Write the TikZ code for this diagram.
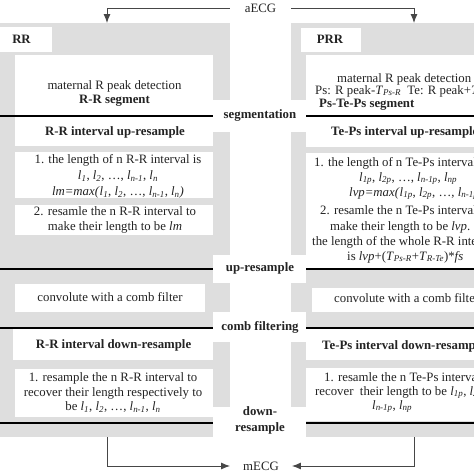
\documentclass[tikz,border=0pt]{standalone}
\usepackage{fontspec}
\setmainfont{Liberation Serif}
\usetikzlibrary{arrows.meta}
\definecolor{panelgray}{RGB}{222,222,222}
\definecolor{txt}{RGB}{35,35,35}
\definecolor{arrowc}{RGB}{70,70,70}
\newcommand\lsb[1]{\textit{l}\textsubscript{\textit{#1}}}
\newcommand\Tsb[1]{\textit{T}\textsubscript{\textit{#1}}}
\begin{document}
\begin{tikzpicture}[x=1pt,y=-1pt,
  panel/.style={fill=panelgray},
  wbox/.style={fill=white},
  t/.style={text=txt, inner sep=0pt, align=center, font=\fontsize{12.8}{15.5}\selectfont},
  tb/.style={t, font=\fontsize{12.8}{15.5}\selectfont\bfseries},
  rl/.style={t, anchor=base west},
  rlb/.style={tb, anchor=base west},
  stageline/.style={line width=1.8pt, black},
  arr/.style={draw=arrowc, line width=0.9pt, -{Latex[length=9pt,width=7pt]}}
]
\useasboundingbox (0,0) rectangle (474,474);
\clip (0,0) rectangle (474,474);
\fill[white] (0,0) rectangle (474,474);
% panels
\fill[panel] (0,23) rectangle (230,437);
\fill[panel] (291,23) rectangle (474,437);
% white cut-outs for stage labels
\fill[wbox] (213,100) rectangle (306,132);
\fill[wbox] (213,255) rectangle (306,283);
\fill[wbox] (213,312) rectangle (306,342);
\fill[wbox] (213,407) rectangle (306,440);
% left boxes
\fill[wbox] (0,27) rectangle (52,52);
\fill[wbox] (15,55) rectangle (213,116);
\fill[wbox] (15,116) rectangle (213,146);
\fill[wbox] (15,152) rectangle (213,198);
\fill[wbox] (15,205) rectangle (213,235);
\fill[wbox] (15,284) rectangle (205,312);
\fill[wbox] (13,328) rectangle (213,360);
\fill[wbox] (15,369) rectangle (213,417);
% right boxes
\fill[wbox] (301,28) rectangle (361,52);
\fill[wbox] (306,55) rectangle (474,116);
\fill[wbox] (306,116) rectangle (474,147);
\fill[wbox] (306,153) rectangle (474,269);
\fill[wbox] (312,288) rectangle (474,312);
\fill[wbox] (306,328) rectangle (474,360);
\fill[wbox] (306,368) rectangle (474,421);
% stage lines
\draw[stageline] (0,116) -- (213,116);
\draw[stageline] (306,116) -- (474,116);
\draw[stageline] (0,269) -- (213,269);
\draw[stageline] (306,269) -- (474,269);
\draw[stageline] (0,328) -- (213,328);
\draw[stageline] (306,328) -- (474,328);
\draw[stageline] (0,423) -- (213,423);
\draw[stageline] (306,423) -- (474,423);
% stage labels
\node[tb] (seg) at (260,115) {segmentation};
\node[tb] (ups) at (260,268) {up-resample};
\node[tb] (comb) at (260,327) {comb filtering};
\node[tb] (down) at (260,420.5) {down-\\resample};
% left texts
\node[tb] (rrtab) at (21.5,39) {RR};
\node[t, font=\fontsize{12.8}{14}\selectfont] (rrseg) at (114.5,93.3) {maternal R peak detection\\\textbf{R-R segment}};
\node[tb] (rrup) at (115,132) {R-R interval up-resample};
\node[t, font=\fontsize{12.8}{16}\selectfont] (rrlen) at (118,176.5) {1. the length of n R-R interval is\\
  \lsb{1}, \lsb{2}, \ldots, \lsb{n-1}, \lsb{n}\\
  \textit{lm=max(}\lsb{1}, \lsb{2}, \ldots, \lsb{n-1}, \lsb{n}\textit{)}};
\node[t, font=\fontsize{12.8}{15}\selectfont] (rrres) at (115,220) {2. resamle the n R-R interval to\\make their length to be \textit{lm}};
\node[t] (rrcomb) at (110,297) {convolute with a comb filter};
\node[tb] (rrdown) at (113.5,345) {R-R interval down-resample};
\node[t, font=\fontsize{12.8}{14.5}\selectfont] (rrrec) at (113,393) {1. resample the n R-R interval to\\recover their length respectively to\\be \lsb{1}, \lsb{2}, \ldots, \lsb{n-1}, \lsb{n}};
% right texts
\node[tb] (prrtab) at (330,39) {PRR};
\node[rl] (ps1) at (337,82) {maternal R peak detection};
\node[rl] (ps2) at (315,94) {Ps: R peak-\Tsb{Ps-R}\ \ Te: R peak+\Tsb{R-Te}};
\node[rlb] (ps3) at (319,107) {Ps-Te-Ps segment};
\node[rlb] (prrup) at (331,135) {Te-Ps interval up-resample};
\node[rl] (pl1) at (314,166) {1. the length of n Te-Ps interval is};
\node[rl] (pl2) at (359,181) {\lsb{1p}, \lsb{2p}, \ldots, \lsb{n-1p}, \lsb{np}};
\node[rl] (pl3) at (349,196) {\textit{lvp=max(}\lsb{1p}, \lsb{2p}, \ldots, \lsb{n-1p}, \lsb{np}\textit{)}};
\node[rl] (pl4) at (320,214) {2. resamle the n Te-Ps interval to};
\node[rl] (pl5) at (330,230) {make their length to be \textit{lvp}. Then};
\node[rl] (pl6) at (312,245) {the length of the whole R-R interval};
\node[rl] (pl7) at (347,260) {is \textit{lvp}+(\Tsb{Ps-R}+\Tsb{R-Te})*\textit{fs}};
\node[rl] (prrcomb) at (334,302) {convolute with a comb filter};
\node[rlb] (prrdown) at (322,349) {Te-Ps interval down-resample};
\node[rl] (pr1) at (324,381) {1. resamle the n Te-Ps interval to};
\node[rl] (pr2) at (315,395) {recover\ \ their length to be \lsb{1p}, \lsb{2p}, \ldots,};
\node[rl] (pr3) at (372,409) {\lsb{n-1p}, \lsb{np}};
% input / output
\node[t, inner xsep=15pt] (aecg) at (260.5,8.5) {aECG};
\node[t, inner xsep=13pt] (mecg) at (261,466) {mECG};
\coordinate (rrin) at (107,23);
\coordinate (prrin) at (414,23);
\coordinate (rrout) at (107,437);
\coordinate (prrout) at (414,437);
\draw[arr] (aecg.west) -| (rrin);
\draw[arr] (aecg.east) -| (prrin);
\draw[arr] (rrout) |- (mecg.west);
\draw[arr] (prrout) |- (mecg.east);
\end{tikzpicture}
\end{document}
